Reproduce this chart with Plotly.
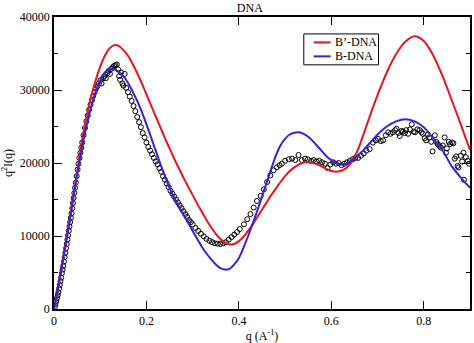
import plotly.graph_objects as go

# ---------------- data ----------------
q_exp = [0.002, 0.0035, 0.005, 0.0065, 0.008, 0.0095, 0.011, 0.0125, 0.014, 0.0155,
         0.017, 0.0185, 0.020, 0.0215, 0.023, 0.0245, 0.026, 0.0275, 0.029, 0.0305,
         0.032, 0.0335, 0.035, 0.0365, 0.038, 0.0395, 0.041, 0.0425, 0.044, 0.0455,
         0.047, 0.049, 0.051, 0.053, 0.055, 0.057, 0.059, 0.061, 0.064, 0.067,
         0.070, 0.073, 0.076, 0.079, 0.082, 0.085, 0.088, 0.091, 0.094, 0.097,
         0.100, 0.103, 0.106, 0.109, 0.112, 0.115, 0.118, 0.121, 0.124, 0.127,
         0.130, 0.133, 0.136, 0.139, 0.141, 0.143, 0.145, 0.148, 0.150, 0.153,
         0.156, 0.160, 0.164, 0.168, 0.172, 0.176, 0.180, 0.184, 0.188, 0.192,
         0.196, 0.200, 0.204, 0.208, 0.212, 0.216, 0.220, 0.224, 0.228, 0.232,
         0.236, 0.240, 0.244, 0.248, 0.252, 0.256, 0.260, 0.264, 0.268, 0.272,
         0.276, 0.280, 0.284, 0.288, 0.292, 0.296, 0.300, 0.306, 0.312, 0.318,
         0.324, 0.330, 0.336, 0.342, 0.348, 0.354, 0.360, 0.366, 0.372, 0.378,
         0.384, 0.390, 0.396, 0.402, 0.411, 0.418, 0.425, 0.432, 0.439, 0.447,
         0.454, 0.461, 0.468, 0.475, 0.482, 0.488, 0.493, 0.500, 0.508, 0.515,
         0.522, 0.529, 0.536, 0.543, 0.549, 0.556, 0.562, 0.568, 0.574, 0.580,
         0.586, 0.592, 0.598, 0.604, 0.610, 0.616, 0.622, 0.628, 0.634, 0.640,
         0.646, 0.652, 0.658, 0.664, 0.670, 0.676, 0.683, 0.690, 0.696, 0.701,
         0.707, 0.712, 0.718, 0.723, 0.728, 0.733, 0.738, 0.741, 0.745, 0.748,
         0.752, 0.755, 0.759, 0.762, 0.766, 0.770, 0.774, 0.778, 0.781, 0.786,
         0.791, 0.795, 0.798, 0.802, 0.805, 0.809, 0.812, 0.816, 0.819, 0.824,
         0.827, 0.830, 0.834, 0.837, 0.841, 0.845, 0.848, 0.850, 0.854, 0.857,
         0.861, 0.864, 0.867, 0.870, 0.873, 0.875, 0.880, 0.883, 0.886, 0.887,
         0.891, 0.895, 0.898]
i_exp = [300, 700, 1100, 1500, 1900, 2300, 2800, 3300, 3800, 4300,
         4900, 5400, 5900, 6500, 7100, 7700, 8300, 8900, 9500, 10100,
         10700, 11300, 11900, 12500, 13100, 13800, 14500, 15200, 15900, 16600,
         17300, 18200, 19100, 19900, 20700, 21400, 22100, 22800, 23800, 24800,
         25700, 26500, 27300, 28000, 28600, 29200, 29700, 30200, 30500, 30900,
         31300, 30900, 31600, 31900, 31600, 32300, 32600, 32200, 32900, 33100,
         33300, 33400, 33500, 32800, 31900, 31400, 32400, 30900, 30600, 32200,
         30300, 29700, 29100, 28500, 27800, 27100, 26300, 25600, 24900, 24100,
         23500, 22800, 22200, 21700, 21200, 20700, 20200, 19800, 19300, 18800,
         18200, 17700, 17200, 16700, 16200, 15800, 15400, 15000, 14600, 14200,
         13800, 13400, 13000, 12600, 12200, 11900, 11600, 11100, 10700, 10300,
         9950, 9600, 9350, 9150, 9000, 8950, 8900, 9000, 9150, 9500,
         9850, 10200, 10550, 10950, 11600, 12300, 13000, 13900, 14800, 15500,
         16400, 17400, 18300, 19000, 19400, 19700, 19900, 20300, 20500, 20600,
         20400, 21100, 20400, 20600, 20500, 20300, 20400, 20200, 20300, 20100,
         19900, 19300, 19800, 20100, 19900, 20000, 19700, 19900, 20100, 20300,
         20500, 20700, 20700, 21000, 21300, 21700, 21900, 22800, 23100, 23300,
         23000, 23100, 23800, 24200, 24000, 24200, 24500, 24700, 24100, 23700,
         24400, 24300, 24100, 24500, 24000, 24600, 25300, 24300, 24200, 24600,
         24500, 24200, 24000, 23400, 23100, 23900, 23500, 22900, 21600, 23800,
         22900, 22600, 22300, 22100, 22400, 23500, 21400, 22000, 22900, 22600,
         22800, 22700, 20600, 20900, 19600, 19400, 21000, 20200, 21400, 17700,
         20800, 20300, 19900]

q_model = [0.00, 0.01, 0.02, 0.03, 0.04, 0.05, 0.06, 0.07, 0.08, 0.09,
           0.10, 0.11, 0.12, 0.13, 0.14, 0.15, 0.16, 0.17, 0.18, 0.19,
           0.20, 0.21, 0.22, 0.23, 0.24, 0.25, 0.26, 0.27, 0.28, 0.29,
           0.30, 0.31, 0.32, 0.33, 0.34, 0.35, 0.36, 0.37, 0.38, 0.39,
           0.40, 0.41, 0.42, 0.43, 0.44, 0.45, 0.46, 0.47, 0.48, 0.49,
           0.50, 0.51, 0.52, 0.53, 0.54, 0.55, 0.56, 0.57, 0.58, 0.59,
           0.60, 0.61, 0.62, 0.63, 0.64, 0.65, 0.66, 0.67, 0.68, 0.69,
           0.70, 0.72, 0.74, 0.76, 0.78, 0.80, 0.82, 0.84, 0.86, 0.88, 0.90]

i_bprime = [0, 3300, 7000, 10800, 14800, 18800, 22800, 26200, 29000, 31300,
            33200, 34700, 35700, 36150, 36050, 35500, 34700, 33600, 32300, 30900,
            29400, 27900, 26400, 24900, 23400, 22000, 20600, 19300, 18000, 16800,
            15600, 14400, 13300, 12200, 11200, 10300, 9600, 9100, 8850, 8900,
            9300, 9900, 10700, 11600, 12600, 13600, 14600, 15600, 16500, 17400,
            18200, 18900, 19400, 19800, 20050, 20100, 20000, 19800, 19500, 19150,
            18900, 18800, 18900, 19200, 19800, 20800, 22200, 24000, 25800, 27600,
            29300, 32400, 34900, 36600, 37350, 36700, 34800, 32000, 28700, 25300, 21800]

i_b = [0, 3200, 6800, 10500, 14400, 18400, 21900, 25000, 27600, 29700,
       31300, 32400, 32850, 32850, 32500, 31900, 31000, 29800, 28500, 27000,
       25300, 23500, 21700, 19900, 18200, 16600, 15200, 14000, 12900, 11800,
       10700, 9600, 8500, 7600, 6800, 6100, 5600, 5400, 5500, 6100,
       7000, 8400, 10000, 11700, 13500, 15400, 17300, 19200, 21000, 22400,
       23300, 23900, 24150, 24200, 24000, 23600, 23000, 22300, 21600, 20900,
       20400, 20000, 19800, 19850, 20150, 20600, 21200, 21800, 22500, 23200,
       23900, 25000, 25700, 26000, 25700, 24900, 23400, 21800, 19600, 18000, 16600]

series_names = ["B\u2019-DNA", "B-DNA"]
series_colors = ["rgb(232,20,30)", "rgb(60,30,225)"]

x_ticks = [0, 0.2, 0.4, 0.6, 0.8]
x_tick_labels = ["0", "0.2", "0.4", "0.6", "0.8"]
y_ticks = [0, 10000, 20000, 30000, 40000]
y_tick_labels = ["0", "10000", "20000", "30000", "40000"]

# ---------------- figure ----------------
serif = "Liberation Serif, Times New Roman, serif"
fig = go.Figure()

fig.add_trace(go.Scatter(
    x=q_exp, y=i_exp, mode="markers", showlegend=False,
    marker=dict(symbol="circle-open", size=5, color="black", line=dict(width=1)),
))
for name, color, vals in zip(series_names, series_colors, [i_bprime, i_b]):
    fig.add_trace(go.Scatter(
        x=q_model, y=vals, mode="lines", name=name, showlegend=False,
        line=dict(color=color, width=2, shape="spline", smoothing=0.8),
    ))

axis_common = dict(
    showline=True, linecolor="black", linewidth=1.5, mirror="allticks",
    ticks="inside", ticklen=8, tickwidth=1, tickcolor="black",
    showgrid=False, zeroline=False,
    tickfont=dict(family=serif, size=12, color="black"),
)

fig.update_xaxes(
    range=[0, 0.9], tickvals=x_ticks, ticktext=x_tick_labels,
    title=dict(text="q (A<sup>-1</sup>)", font=dict(family=serif, size=12, color="black"), standoff=4),
    **axis_common,
)
fig.update_yaxes(
    range=[0, 40000], tickvals=y_ticks, ticktext=y_tick_labels,
    minor=dict(dtick=5000, ticks="inside", ticklen=4, tickcolor="black", showgrid=False),
    title=dict(text="q<sup>2</sup>I(q)", font=dict(family=serif, size=12, color="black"), standoff=6),
    **axis_common,
)

# legend box drawn in paper coordinates (decoration only)
box_x0, box_x1, box_y0, box_y1 = 0.6005, 0.780, 0.8362, 0.9420
fig.add_shape(type="rect", xref="paper", yref="paper",
              x0=box_x0, x1=box_x1, y0=box_y0, y1=box_y1,
              line=dict(color="black", width=1), fillcolor="white", layer="above")
legend_rows = [0.9130, 0.8652]
for name, color, yy in zip(series_names, series_colors, legend_rows):
    fig.add_shape(type="line", xref="paper", yref="paper",
                  x0=0.6244, x1=0.6651, y0=yy, y1=yy,
                  line=dict(color=color, width=2), layer="above")
    fig.add_annotation(xref="paper", yref="paper", x=0.6722, y=yy,
                       xanchor="left", yanchor="middle", showarrow=False,
                       borderpad=0, valign="middle",
                       text=name, font=dict(family=serif, size=12, color="black"))

fig.update_layout(
    width=474, height=343,
    margin=dict(l=54, r=2, t=17, b=33),
    paper_bgcolor="white", plot_bgcolor="white",
    title=dict(text="DNA", x=0.527, xanchor="center", y=0.977, yanchor="middle",
               font=dict(family=serif, size=12, color="black")),
    showlegend=False,
)

fig.write_html("out.html")
